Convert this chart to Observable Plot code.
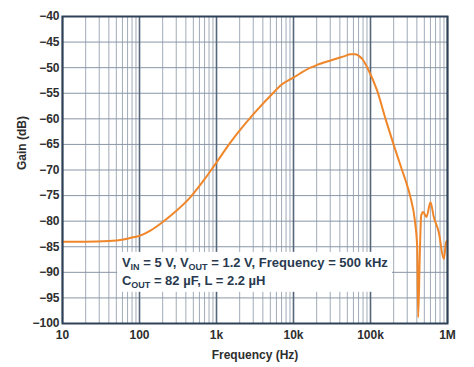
<!DOCTYPE html>
<html>
<head>
<meta charset="utf-8">
<script src="https://cdn.jsdelivr.net/npm/d3@7"></script>
<script src="https://cdn.jsdelivr.net/npm/@observablehq/plot@0.6"></script>
<style>
  html, body { margin: 0; padding: 0; background: #fff; }
  #chart svg { display: block; }
</style>
</head>
<body>
<div id="chart"></div>
<script>
// Frequency (Hz) and gain (dB)
const freq = [10, 20, 40, 62, 80, 103, 140, 187, 260, 459, 700, 970, 1520, 3055, 5550, 6780, 10090, 16600, 20000, 30270, 45000, 54950, 63800, 72000, 78000, 95100, 122000, 156700, 258000, 285000, 330000, 377000, 404000, 416000, 437000, 455000, 483000, 533000, 601000, 664000, 771000, 895000, 961000, 1000000];
const gain = [-84.0, -84.0, -83.9, -83.6, -83.2, -82.8, -81.8, -80.5, -78.8, -75.3, -71.8, -68.8, -64.6, -59.0, -54.8, -53.5, -51.9, -50.0, -49.5, -48.6, -47.8, -47.4, -47.4, -47.8, -48.3, -50.6, -54.5, -60.0, -70.1, -72.0, -75.3, -79.9, -85.1, -98.8, -86.4, -78.9, -78.2, -79.2, -76.3, -79.2, -82.2, -87.4, -84.1, -83.8];

const xTicks = [10, 100, 1000, 10000, 100000, 1000000];
const xTickLabels = ["10", "100", "1k", "10k", "100k", "1M"];
const yTicks = [-40, -45, -50, -55, -60, -65, -70, -75, -80, -85, -90, -95, -100];
const minorX = [];
for (const d of [10, 100, 1000, 10000, 100000]) for (let k = 2; k <= 9; k++) minorX.push(d * k);

// annotation box (data coords) and text
const noteBox = [{x1: 52, x2: 193000, y1: -86.1, y2: -93.9}];
const noteLine1 = [["V", ""], ["IN", "sub"], [" = 5 V, V", ""], ["OUT", "sub"], [" = 1.2 V, Frequency = 500 kHz", ""]];
const noteLine2 = [["C", ""], ["OUT", "sub"], [" = 82 µF, L = 2.2 µH", ""]];
const noteAnchor = {x: 60, y1: -89.0, y2: -92.6};

const data = freq.map((f, i) => ({f, g: gain[i]}));
const xLabelOf = new Map(xTicks.map((t, i) => [t, xTickLabels[i]]));

const chart = Plot.plot({
  width: 474,
  height: 367,
  marginLeft: 62,
  marginRight: 27,
  marginTop: 16,
  marginBottom: 44,
  style: {fontFamily: "'Liberation Sans', Arial, sans-serif", fontSize: "12px", fontWeight: "bold", color: "#333", background: "#fff"},
  x: {type: "log", domain: [10, 1e6]},
  y: {domain: [-100, -40]},
  marks: [
    Plot.ruleX(minorX, {stroke: "#a0abb8", strokeWidth: 1}),
    Plot.ruleY(yTicks, {stroke: "#8996a6", strokeWidth: 1}),
    Plot.ruleX(xTicks, {stroke: "#56677b", strokeWidth: 1.6}),
    Plot.rect(noteBox, {x1: "x1", x2: "x2", y1: "y1", y2: "y2", fill: "white"}),
    Plot.line(data, {x: "f", y: "g", stroke: "#f0862a", strokeWidth: 2, curve: "monotone-x"}),
    Plot.frame({stroke: "#2f4157", strokeWidth: 2}),
    Plot.axisX({ticks: xTicks, tickSize: 0, tickPadding: 7, tickFormat: d => xLabelOf.get(d) ?? "", fontSize: 12, fontWeight: "bold", fill: "#2e2e2e", label: null}),
    Plot.axisY({ticks: yTicks, tickSize: 0, tickPadding: 3, tickFormat: d => String(d).replace("-", "\u2212"), fontSize: 12, fontWeight: "bold", fill: "#2e2e2e", label: null}),
    Plot.text(["Frequency (Hz)"], {frameAnchor: "bottom", dy: 35, fontSize: 12, fontWeight: "bold", fill: "#2e2e2e"}),
    Plot.text(["Gain (dB)"], {frameAnchor: "left", dx: -40, rotate: -90, fontSize: 12, fontWeight: "bold", fill: "#2e2e2e"})
  ]
});

// annotation text with subscripts
const sx = chart.scale("x"), sy = chart.scale("y");
const ns = "http://www.w3.org/2000/svg";
function addLine(parts, yv) {
  const t = document.createElementNS(ns, "text");
  t.setAttribute("x", sx.apply(noteAnchor.x));
  t.setAttribute("y", sy.apply(yv));
  t.setAttribute("text-anchor", "start");
  t.setAttribute("font-size", "13");
  t.setAttribute("font-weight", "bold");
  t.setAttribute("fill", "#293a4f");
  t.setAttribute("font-family", "'Liberation Sans', Arial, sans-serif");
  let shifted = false;
  for (const [s, kind] of parts) {
    const ts = document.createElementNS(ns, "tspan");
    ts.textContent = s;
    if (kind === "sub") {
      ts.setAttribute("font-size", "9");
      ts.setAttribute("dy", "3");
      shifted = true;
    } else if (shifted) {
      ts.setAttribute("dy", "-3");
      shifted = false;
    }
    t.appendChild(ts);
  }
  chart.appendChild(t);
}
addLine(noteLine1, noteAnchor.y1);
addLine(noteLine2, noteAnchor.y2);

document.getElementById("chart").appendChild(chart);
</script>
</body>
</html>
